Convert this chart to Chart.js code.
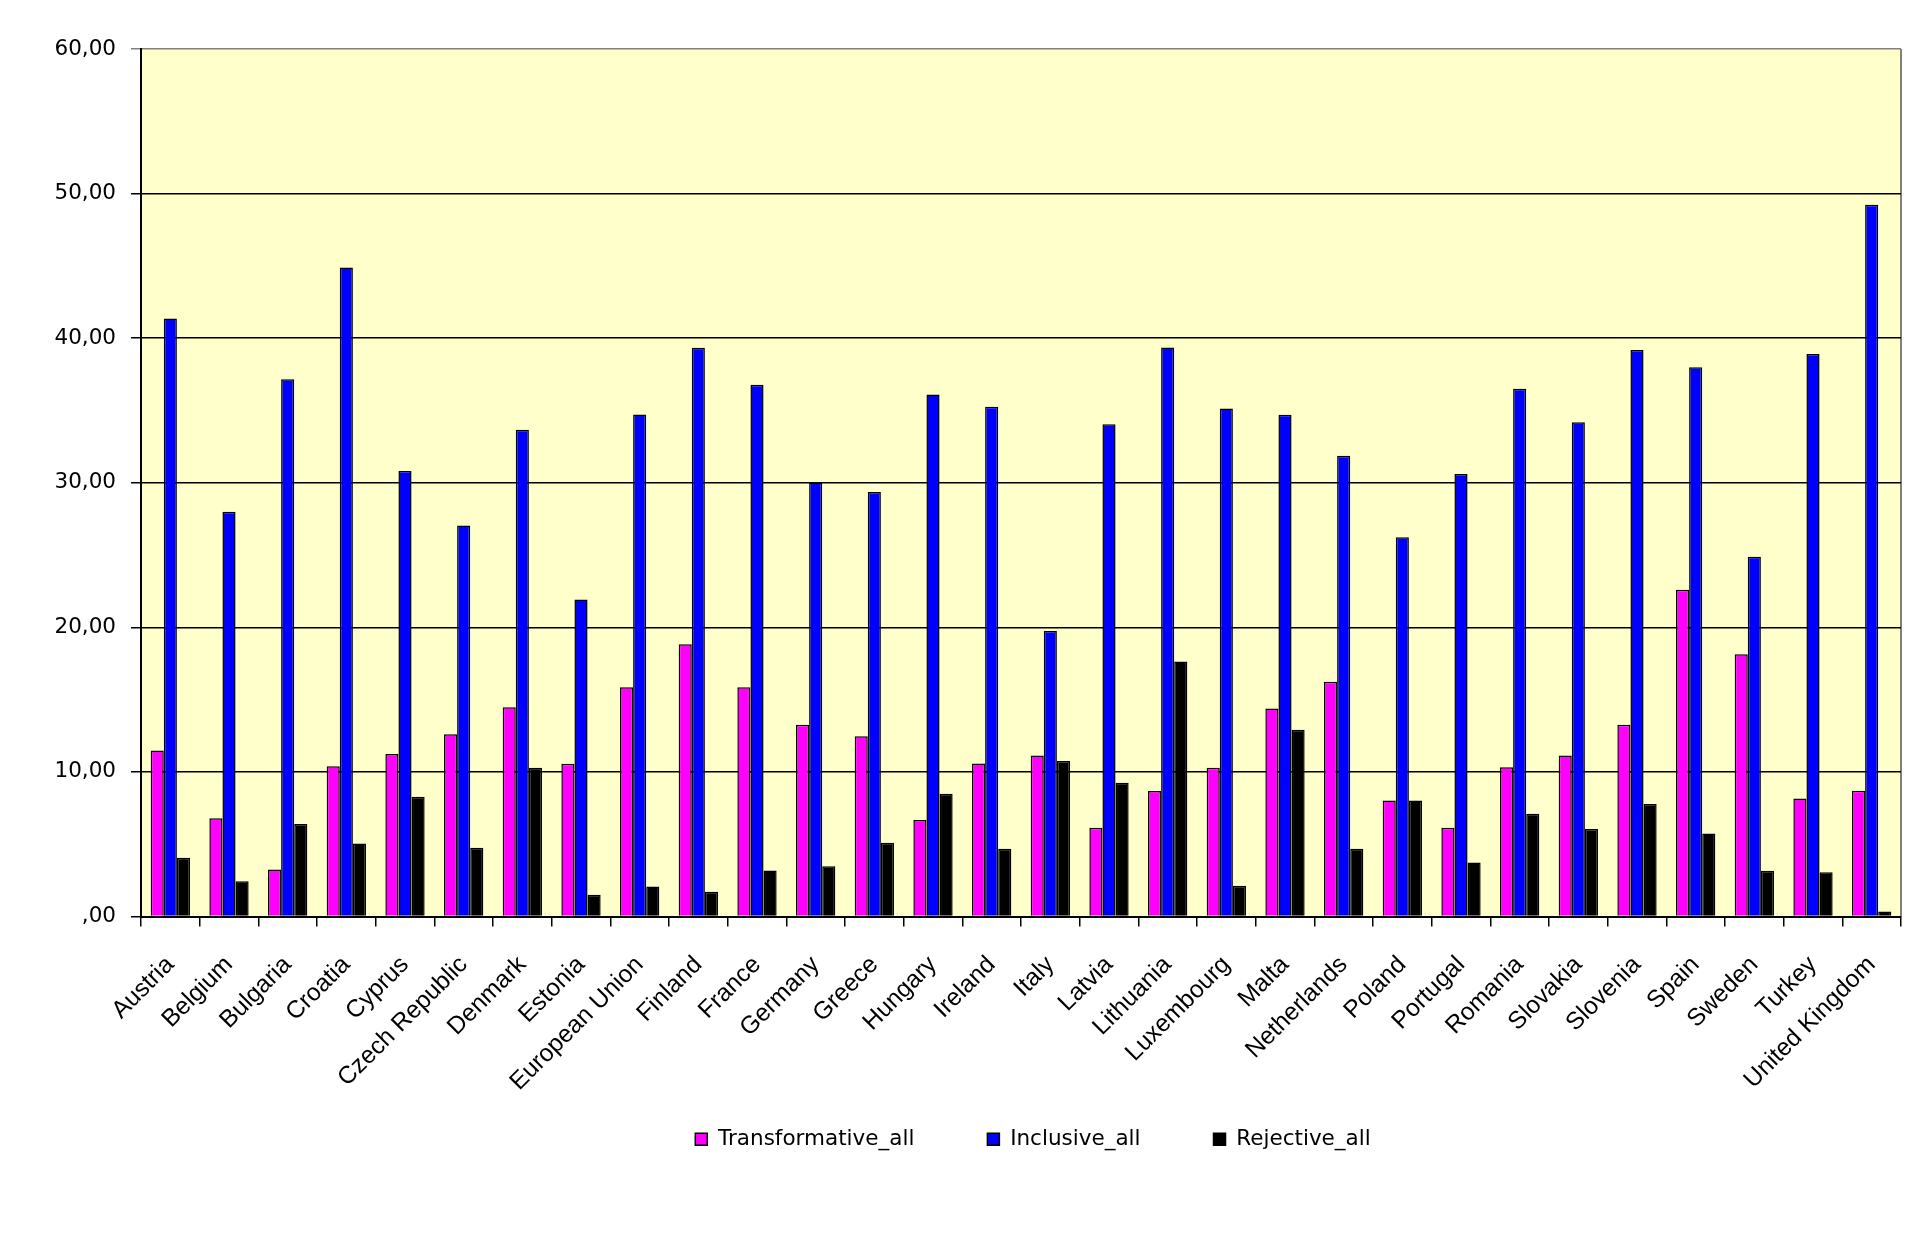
<!DOCTYPE html>
<html>
<head>
<meta charset="utf-8">
<script src="https://cdn.jsdelivr.net/npm/chart.js@4.4.1/dist/chart.umd.min.js"></script>
<style>
  html, body { margin: 0; padding: 0; background: #fff; }
  #wrap { width: 1917px; height: 1241px; position: relative; }
</style>
</head>
<body>
<div id="wrap"><canvas id="bar-chart"></canvas></div>
<script>
const countries = [
  "Austria", "Belgium", "Bulgaria", "Croatia", "Cyprus", "Czech Republic",
  "Denmark", "Estonia", "European Union", "Finland", "France", "Germany",
  "Greece", "Hungary", "Ireland", "Italy", "Latvia", "Lithuania",
  "Luxembourg", "Malta", "Netherlands", "Poland", "Portugal", "Romania",
  "Slovakia", "Slovenia", "Spain", "Sweden", "Turkey", "United Kingdom"
];

const transformative = [
  11.48, 6.80, 3.25, 10.40, 11.24, 12.60, 14.47, 10.56, 15.85, 18.83,
  15.85, 13.26, 12.47, 6.68, 10.59, 11.13, 6.14, 8.68, 10.29, 14.38,
  16.23, 8.03, 6.13, 10.32, 11.13, 13.27, 22.60, 18.13, 8.17, 8.70
];

const inclusive = [
  41.36, 27.99, 37.16, 44.89, 30.82, 27.04, 33.66, 21.93, 34.72, 39.33,
  36.78, 30.01, 29.36, 36.10, 35.25, 19.75, 34.05, 39.35, 35.14, 34.70,
  31.87, 26.23, 30.60, 36.51, 34.19, 39.19, 37.99, 24.89, 38.91, 49.23
];

const rejective = [
  4.07, 2.43, 6.40, 5.05, 8.28, 4.76, 10.29, 1.51, 2.08, 1.72,
  3.19, 3.47, 5.10, 8.49, 4.69, 10.75, 9.25, 17.63, 2.13, 12.91,
  4.68, 8.03, 3.73, 7.11, 6.06, 7.78, 5.74, 3.17, 3.06, 0.35
];

const yTickLabels = [",00", "10,00", "20,00", "30,00", "40,00", "50,00", "60,00"];

// pale yellow plot area + grey right edge
const plotBackground = {
  id: "plotBackground",
  beforeDraw(chart) {
    const { ctx, chartArea: a } = chart;
    ctx.save();
    ctx.fillStyle = "#FFFFCC";
    ctx.fillRect(a.left, a.top, a.right - a.left, a.bottom - a.top);
    ctx.strokeStyle = "#808080";
    ctx.lineWidth = 2;
    ctx.beginPath();
    ctx.moveTo(a.right, a.top);
    ctx.lineTo(a.right, a.bottom);
    ctx.stroke();
    ctx.restore();
  },
};

// the x axis box is kept short so the legend sits high; let the
// rotated labels run past it instead of being clipped.
// legend is nudged a bit right while drawing, like in the original
const LEGEND_SHIFT = 12;
const layoutTweaks = {
  id: "layoutTweaks",
  afterLayout(chart) {
    chart.scales.x.bottom = chart.height;
  },
  beforeDraw(chart) {
    chart.legend.left += LEGEND_SHIFT;
    chart.legend.right += LEGEND_SHIFT;
  },
  afterDraw(chart) {
    chart.legend.left -= LEGEND_SHIFT;
    chart.legend.right -= LEGEND_SHIFT;
  },
};

Chart.defaults.color = "#000";

new Chart(document.getElementById("bar-chart"), {
  type: "bar",
  data: {
    labels: countries,
    datasets: [
      {
        label: "Transformative_all",
        backgroundColor: "#FF00FF",
        borderColor: "#000",
        borderWidth: 1.5,
        data: transformative,
      },
      {
        label: "Inclusive_all",
        backgroundColor: "#0000FF",
        borderColor: "#000",
        borderWidth: 1.5,
        data: inclusive,
      },
      {
        label: "Rejective_all",
        backgroundColor: "#000000",
        borderColor: "#000",
        borderWidth: 1.5,
        data: rejective,
      },
    ],
  },
  options: {
    responsive: true,
    maintainAspectRatio: false,
    devicePixelRatio: 1,
    animation: false,
    categoryPercentage: 0.67,
    barPercentage: 1.0,
    layout: {
      padding: { top: 49, left: 0, right: 16, bottom: 81 },
    },
    plugins: {
      title: { display: false },
      tooltip: { enabled: false },
      legend: {
        position: "bottom",
        fullSize: false,
        labels: {
          boxWidth: 12,
          boxHeight: 12,
          padding: 73,
          color: "#000",
          font: { family: "'DejaVu Sans'", size: 21.5 },
        },
      },
    },
    scales: {
      x: {
        afterFit(scale) {
          scale.height = 139;
        },
        grid: {
          offset: true,
          drawOnChartArea: false,
          drawTicks: true,
          tickLength: 10,
          color: "#000",
          lineWidth: 1.5,
        },
        border: { display: true, color: "#000", width: 2 },
        ticks: {
          autoSkip: false,
          minRotation: 45,
          maxRotation: 45,
          padding: 24,
          color: "#000",
          font: { family: "'Liberation Sans', Arial", size: 24.5 },
        },
      },
      y: {
        min: 0,
        max: 60,
        afterFit(scale) {
          scale.width = 141;
        },
        grid: {
          color: (c) => (c.tick && c.tick.value === 60 ? "#808080" : "#000"),
          lineWidth: 1.5,
          tickLength: 10,
        },
        border: { display: true, color: "#000", width: 2 },
        ticks: {
          stepSize: 10,
          padding: 15,
          color: "#000",
          font: { family: "'DejaVu Sans'", size: 21.5 },
          callback: (value) => yTickLabels[Math.round(value / 10)],
        },
      },
    },
  },
  plugins: [plotBackground, layoutTweaks],
});
</script>
</body>
</html>
